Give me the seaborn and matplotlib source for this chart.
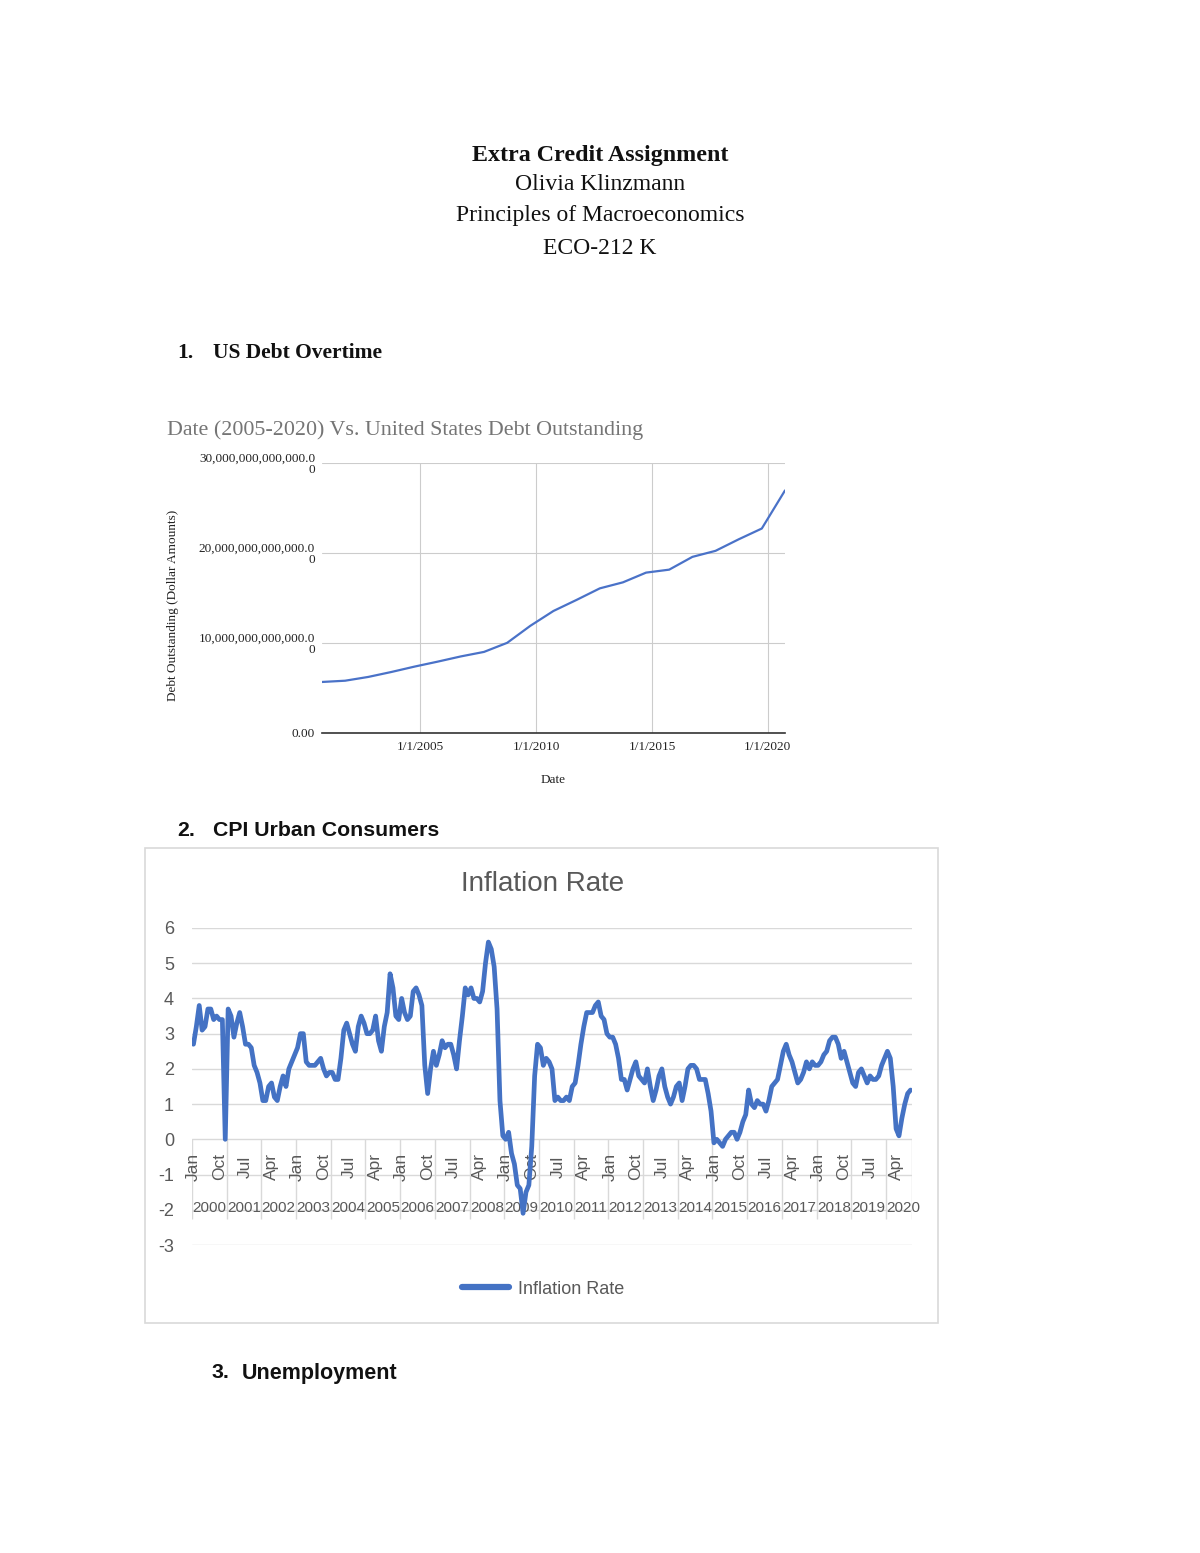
import numpy as np
import pandas as pd
import matplotlib
matplotlib.use("Agg")
import matplotlib.pyplot as plt
from matplotlib.patches import Rectangle
from matplotlib.lines import Line2D
import seaborn as sns

# ---------------- data ----------------
# Chart 1: US debt outstanding (fiscal year ends), trillions of dollars
debt_dates = ["2000-09-30", "2001-09-30", "2002-09-30", "2003-09-30", "2004-09-30",
              "2005-09-30", "2006-09-30", "2007-09-30", "2008-09-30", "2009-09-30",
              "2010-09-30", "2011-09-30", "2012-09-30", "2013-09-30", "2014-09-30",
              "2015-09-30", "2016-09-30", "2017-09-30", "2018-09-30", "2019-09-30",
              "2020-09-30"]
debt_trillions = [5.67, 5.81, 6.23, 6.78, 7.38, 7.93, 8.51, 9.01, 10.02, 11.91,
                  13.56, 14.79, 16.07, 16.74, 17.82, 18.15, 19.57, 20.24, 21.52, 22.72,
                  26.95]
debt_xtick_dates = ["2005-01-01", "2010-01-01", "2015-01-01", "2020-01-01"]
debt_xtick_labels = ["1/1/2005", "1/1/2010", "1/1/2015", "1/1/2020"]
debt_yticks = [0, 10e12, 20e12, 30e12]
debt_ytick_labels = ["0.00", "10,000,000,000,000.0\n0", "20,000,000,000,000.0\n0",
                     "30,000,000,000,000.0\n0"]

# Chart 2: monthly inflation rate (%), Jan 2000 - Sep 2020
infl_2000 = [2.7, 3.2, 3.8, 3.1, 3.2, 3.7, 3.7, 3.4, 3.5, 3.4, 3.4, 0.0]
infl_2001 = [3.7, 3.5, 2.9, 3.3, 3.6, 3.2, 2.7, 2.7, 2.6, 2.1, 1.9, 1.6]
infl_2002 = [1.1, 1.1, 1.5, 1.6, 1.2, 1.1, 1.5, 1.8, 1.5, 2.0, 2.2, 2.4]
infl_2003 = [2.6, 3.0, 3.0, 2.2, 2.1, 2.1, 2.1, 2.2, 2.3, 2.0, 1.8, 1.9]
infl_2004 = [1.9, 1.7, 1.7, 2.3, 3.1, 3.3, 3.0, 2.7, 2.5, 3.2, 3.5, 3.3]
infl_2005 = [3.0, 3.0, 3.1, 3.5, 2.8, 2.5, 3.2, 3.6, 4.7, 4.3, 3.5, 3.4]
infl_2006 = [4.0, 3.6, 3.4, 3.5, 4.2, 4.3, 4.1, 3.8, 2.1, 1.3, 2.0, 2.5]
infl_2007 = [2.1, 2.4, 2.8, 2.6, 2.7, 2.7, 2.4, 2.0, 2.8, 3.5, 4.3, 4.1]
infl_2008 = [4.3, 4.0, 4.0, 3.9, 4.2, 5.0, 5.6, 5.4, 4.9, 3.7, 1.1, 0.1]
infl_2009 = [0.0, 0.2, -0.4, -0.7, -1.3, -1.4, -2.1, -1.5, -1.3, -0.2, 1.8, 2.7]
infl_2010 = [2.6, 2.1, 2.3, 2.2, 2.0, 1.1, 1.2, 1.1, 1.1, 1.2, 1.1, 1.5]
infl_2011 = [1.6, 2.1, 2.7, 3.2, 3.6, 3.6, 3.6, 3.8, 3.9, 3.5, 3.4, 3.0]
infl_2012 = [2.9, 2.9, 2.7, 2.3, 1.7, 1.7, 1.4, 1.7, 2.0, 2.2, 1.8, 1.7]
infl_2013 = [1.6, 2.0, 1.5, 1.1, 1.4, 1.8, 2.0, 1.5, 1.2, 1.0, 1.2, 1.5]
infl_2014 = [1.6, 1.1, 1.5, 2.0, 2.1, 2.1, 2.0, 1.7, 1.7, 1.7, 1.3, 0.8]
infl_2015 = [-0.1, 0.0, -0.1, -0.2, 0.0, 0.1, 0.2, 0.2, 0.0, 0.2, 0.5, 0.7]
infl_2016 = [1.4, 1.0, 0.9, 1.1, 1.0, 1.0, 0.8, 1.1, 1.5, 1.6, 1.7, 2.1]
infl_2017 = [2.5, 2.7, 2.4, 2.2, 1.9, 1.6, 1.7, 1.9, 2.2, 2.0, 2.2, 2.1]
infl_2018 = [2.1, 2.2, 2.4, 2.5, 2.8, 2.9, 2.9, 2.7, 2.3, 2.5, 2.2, 1.9]
infl_2019 = [1.6, 1.5, 1.9, 2.0, 1.8, 1.6, 1.8, 1.7, 1.7, 1.8, 2.1, 2.3]
infl_2020 = [2.5, 2.3, 1.5, 0.3, 0.1, 0.6, 1.0, 1.3, 1.4]
inflation_rate = (infl_2000 + infl_2001 + infl_2002 + infl_2003 + infl_2004 + infl_2005
                  + infl_2006 + infl_2007 + infl_2008 + infl_2009 + infl_2010 + infl_2011
                  + infl_2012 + infl_2013 + infl_2014 + infl_2015 + infl_2016 + infl_2017
                  + infl_2018 + infl_2019 + infl_2020)
inflation_start = "2000-01-01"
month_label_step = 9
infl_yticks = list(range(-3, 7))

# ---------------- style ----------------
sns.set_style("white")
plt.rcParams["axes.unicode_minus"] = False
SERIF = "Liberation Serif"
SANS = "Liberation Sans"
XL = "Liberation Sans"
GRAY = "#595959"
BLUE = "#4472C4"

W, H = 1200, 1553
fig = plt.figure(figsize=(W / 100, H / 100), dpi=100)


def fx(x):
    return x / W


def fy(y):
    return 1 - y / H


# ---------------- document text ----------------
fig.text(fx(600), fy(155), "Extra Credit Assignment", ha="center", va="center",
         family=SERIF, fontweight="bold", fontsize=17.3, color="#111111")
for ypix, txt in [(185, "Olivia Klinzmann"), (216, "Principles of Macroeconomics"),
                  (248, "ECO-212 K")]:
    fig.text(fx(600), fy(ypix), txt, ha="center", va="center",
             family=SERIF, fontsize=17, color="#111111")

fig.text(fx(177), fy(353), "1.", ha="left", va="center", family=SERIF,
         fontweight="bold", fontsize=15.5, color="#111111")
fig.text(fx(213), fy(353), "US Debt Overtime", ha="left", va="center", family=SERIF,
         fontweight="bold", fontsize=15.5, color="#111111")
fig.text(fx(177), fy(830), "2.", ha="left", va="center", family=SANS,
         fontweight="bold", fontsize=15.3, color="#111111")
fig.text(fx(213), fy(830), "CPI Urban Consumers", ha="left", va="center", family=SANS,
         fontweight="bold", fontsize=15.3, color="#111111")
fig.text(fx(212), fy(1373), "3.", ha="left", va="center", family=SANS,
         fontweight="bold", fontsize=15.3, color="#111111")
fig.text(fx(242), fy(1373), "Unemployment", ha="left", va="center", family=SANS,
         fontweight="bold", fontsize=15.5, color="#111111")

# ---------------- chart 1: debt ----------------
df_debt = pd.DataFrame({"Date": pd.to_datetime(debt_dates),
                        "Debt": np.array(debt_trillions) * 1e12})
ax1 = fig.add_axes([fx(322), fy(733), (785 - 322) / W, (733 - 463) / H])
sns.lineplot(data=df_debt, x="Date", y="Debt", ax=ax1, color="#4a72c8", lw=1.6)
ax1.set_xlim(df_debt["Date"].iloc[0], df_debt["Date"].iloc[-1])
ax1.set_ylim(0, 30e12)
ax1.set_xticks(pd.to_datetime(debt_xtick_dates))
ax1.set_xticklabels(debt_xtick_labels, family=SERIF, fontsize=9.5, color="#222222")
ax1.set_yticks(debt_yticks)
ax1.set_yticklabels(debt_ytick_labels, family=SERIF, fontsize=9.5, color="#222222")
for lbl in ax1.get_yticklabels():
    lbl.set_multialignment("right")
    lbl.set_linespacing(0.95)
ax1.grid(True, color="#cccccc", lw=0.8)
for s in ["top", "right", "left"]:
    ax1.spines[s].set_visible(False)
ax1.spines["bottom"].set_color("#333333")
ax1.spines["bottom"].set_linewidth(1.2)
ax1.tick_params(axis="y", length=0, pad=5)
ax1.tick_params(axis="x", length=3, color="#cccccc", pad=3)
ax1.set_xlabel("Date", family=SERIF, fontsize=9.5, color="#222222")
ax1.set_ylabel("Debt Outstanding (Dollar Amounts)", family=SERIF, fontsize=9.5,
               color="#222222")
ax1.xaxis.set_label_coords((553 - 322) / 463, (733 - 774) / 270)
ax1.yaxis.set_label_coords((179 - 322) / 463, (733 - 605) / 270)
fig.text(fx(167), fy(430), "Date (2005-2020) Vs. United States Debt Outstanding",
         ha="left", va="center", family=SERIF, fontsize=15.8, color="#757575")

# ---------------- chart 2: inflation ----------------
fig.patches.append(Rectangle((fx(145), fy(1323)), (938 - 145) / W, (1323 - 848) / H,
                             transform=fig.transFigure, fill=False,
                             edgecolor="#d9d9d9", lw=1.2))
n = len(inflation_rate)
months = pd.date_range(inflation_start, periods=n, freq="MS")
df_inf = pd.DataFrame({"pos": np.arange(n), "Inflation Rate": inflation_rate,
                       "Month": months})
ax2 = fig.add_axes([fx(192), fy(1245), (912 - 192) / W, (1245 - 928) / H])
ax2.set_axisbelow(True)
sns.lineplot(data=df_inf, x="pos", y="Inflation Rate", ax=ax2, color=BLUE, lw=3.4,
             solid_joinstyle="round", solid_capstyle="round", zorder=5)
ax2.set_xlim(-0.5, n - 0.5)
ax2.set_ylim(-3, 6)
ax2.set_yticks(infl_yticks)
ax2.set_yticklabels([str(v) for v in infl_yticks], family=XL, fontsize=13, color=GRAY)
ax2.set_xticks([])
ax2.yaxis.grid(True, color="#d9d9d9", lw=1.0)
for s in ax2.spines.values():
    s.set_visible(False)
ax2.tick_params(axis="y", length=0, pad=13)
ax2.set_xlabel("")
ax2.set_ylabel("")

# category axis: separators, month labels and year labels
years = months.year
sep_x = [-0.5 + i for i in range(n) if months[i].month == 1] + [n - 0.5]
ax2.vlines(sep_x, -2.25, 0, color="#d9d9d9", lw=1.0, zorder=1)
for i in range(0, n, month_label_step):
    ax2.text(i, -0.77, months[i].strftime("%b"), rotation=90, ha="center", va="center",
             family=XL, fontsize=12.5, color=GRAY, zorder=3)
prev_mid = None
for yr in sorted(set(years)):
    idx = np.where(years == yr)[0]
    mid = (idx.min() + idx.max()) / 2
    if prev_mid is not None:
        mid = max(mid, prev_mid + 12)
    prev_mid = mid
    ax2.text(mid, -1.94, str(yr), ha="center", va="center",
             family=XL, fontsize=11, color=GRAY, zorder=3, clip_on=False)

fig.text(fx(543), fy(884), "Inflation Rate", ha="center", va="center", family=XL,
         fontsize=20, color=GRAY)
fig.legend(handles=[Line2D([], [], color=BLUE, lw=4.5, solid_capstyle="round")],
           labels=["Inflation Rate"], loc="center",
           bbox_to_anchor=(fx(543), fy(1289)), frameon=False, handlelength=2.6,
           handletextpad=0.5, labelcolor=GRAY,
           prop={"family": XL, "size": 13})

fig.savefig("out.png", dpi=100)
